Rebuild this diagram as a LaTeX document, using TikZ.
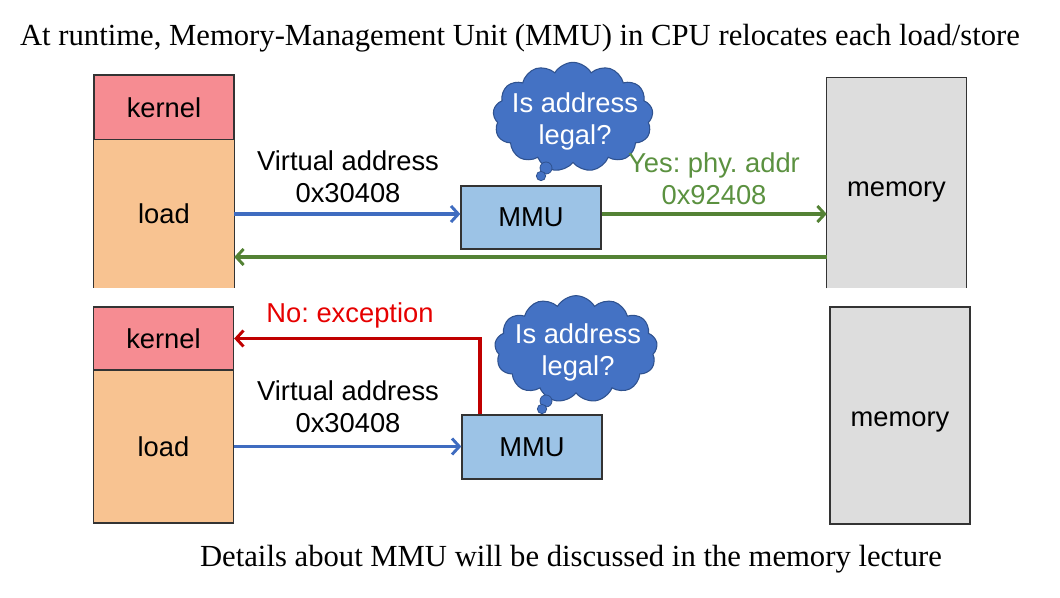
\documentclass[tikz,border=0pt]{standalone}
\usepackage{fontspec}
\setmainfont{Liberation Serif}
\setsansfont{Liberation Sans}
\usetikzlibrary{shapes.symbols,arrows.meta}
\definecolor{kernfill}{HTML}{F68C92}
\definecolor{loadfill}{HTML}{F8C391}
\definecolor{mmufill}{HTML}{9CC3E6}
\definecolor{memfill}{HTML}{DDDDDD}
\definecolor{cloudfill}{HTML}{4472C4}
\definecolor{cloudedge}{HTML}{2F528F}
\definecolor{arrblue}{HTML}{3F6CC0}
\definecolor{arrgreen}{HTML}{548235}
\definecolor{txtgreen}{HTML}{5B9140}
\definecolor{arrred}{HTML}{C00000}
\definecolor{txtred}{HTML}{E60000}
\frenchspacing
\begin{document}
\begin{tikzpicture}[x=0.75pt,y=-0.75pt,
  lbl/.style={font=\sffamily\fontsize{20.5}{24}\selectfont, align=center, inner sep=0pt},
  boxed/.style={lbl, draw=black!80, line width=1pt, minimum width=105pt},
  fillonly/.style={lbl, minimum width=105pt},
  thought/.style={cloud, cloud puffs=13, cloud puff arc=120, aspect=1.6, fill=cloudfill, draw=cloudedge, line width=0.8pt, inner sep=0pt, minimum width=120pt, minimum height=82pt},
  bubble/.style={circle, fill=cloudfill, draw=cloudedge, line width=0.6pt, inner sep=0pt},
  conn/.style={line width=2.4pt, -{Straight Barb[length=5.5pt,width=12pt,line width=2.2pt]}},
  bluelink/.style={conn, arrblue, line width=2.8pt},
  caption/.style={font=\fontsize{23}{27}\selectfont, inner sep=0pt}
]
\useasboundingbox (0,0) rectangle (1060,598);

\node[caption] (title) at (520,38) {At runtime, Memory-Management Unit (MMU) in CPU relocates each load/store};
\node[caption] (foot) at (571,559) {Details about MMU will be discussed in the memory lecture};

% ---------- top scenario ----------
\node[boxed, fill=kernfill, minimum height=48.75pt] (k1) at (164,107.5) {kernel};
\node[fillonly, fill=loadfill, minimum height=111pt] (l1) at (164,214) {load};
\draw[black!80, line width=1pt] (l1.north west) -- (l1.south west) (l1.north east) -- (l1.south east);

\node[fillonly, fill=memfill, minimum width=104.25pt, minimum height=157.5pt] (mem1) at (896.5,183) {\raisebox{-10pt}[0pt][0pt]{memory}};
\draw[black!80, line width=1pt] (mem1.south west) -- (mem1.north west) -- (mem1.north east) -- (mem1.south east);

\node[boxed, fill=mmufill, minimum height=47.25pt] (m1) at (531,217.5) {MMU};

\node[thought] (c1) at (573,117) {};
\node[lbl, text=white] (c1t) at (575,121) {Is address\\legal?};
\node[bubble, minimum size=9pt] (b1a) at (546,168) {};
\node[bubble, minimum size=7pt] (b1b) at (541,176) {};

\node[lbl] (va1) at (348,177) {Virtual address\\0x30408};
\node[lbl, text=txtgreen] (yes) at (714,179) {Yes: phy. addr\\0x92408};

\coordinate (r1) at (0,257);
\draw[bluelink] (l1.east) -- (m1.west |- l1.east);
\draw[conn, arrgreen] (m1.east |- l1.east) -- (mem1.west |- l1.east);
\draw[conn, arrgreen] (mem1.west |- r1) -- (l1.east |- r1);

% ---------- bottom scenario ----------
\node[boxed, fill=kernfill, minimum height=47.25pt] (k2) at (163.5,338.5) {kernel};
\node[boxed, fill=loadfill, minimum height=114.75pt] (l2) at (163.5,446.5) {load};
\node[boxed, fill=memfill, minimum height=162.75pt] (mem2) at (900,415.5) {\raisebox{-8.5pt}[0pt][0pt]{memory}};
\node[boxed, fill=mmufill, minimum height=48pt] (m2) at (532,447) {MMU};

\node[thought, minimum width=122pt, minimum height=80pt] (c2) at (576,349) {};
\node[lbl, text=white] (c2t) at (578,352) {Is address\\legal?};
\node[bubble, minimum size=9pt] (b2a) at (546,401) {};
\node[bubble, minimum size=7pt] (b2b) at (542,409) {};

\node[lbl] (va2) at (348,407) {Virtual address\\0x30408};
\node[lbl, text=txtred] (no) at (350,315) {No: exception};

\coordinate (rx) at (480,0);
\draw[bluelink] (l2.east) -- (m2.west |- l2.east);
\draw[conn, arrred] (m2.north -| rx) |- (k2.east);
\end{tikzpicture}
\end{document}
